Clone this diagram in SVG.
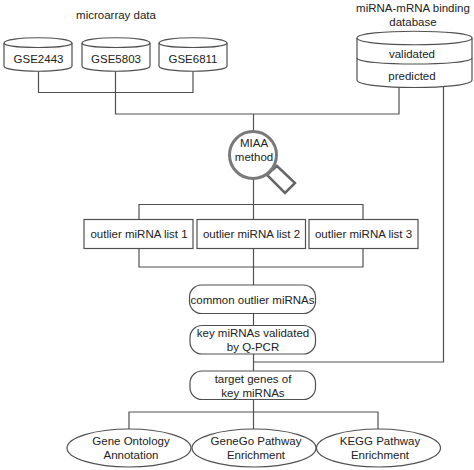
<svg xmlns="http://www.w3.org/2000/svg" width="474" height="470" viewBox="0 0 474 470">
<style>
.s{fill:#fff;stroke:#505050;stroke-width:1.2}
.c{fill:none;stroke:#505050;stroke-width:1.2}
text{font-family:"Liberation Sans",Arial,sans-serif;font-size:11.500px;fill:#222;text-anchor:middle}
</style>
<rect width="474" height="470" fill="#fff"/>
<g id="connectors" class="c">
<path d="M38.500 71V92.500H193V71"/>
<path d="M115.500 71V114H399V87"/>
<path d="M253.500 114V131"/>
<path d="M253.500 179V219"/>
<path d="M139 219V204.500H363V219"/>
<path d="M139 248V267H363V248"/>
<path d="M253.500 248V285"/>
<path d="M253.500 313V325"/>
<path d="M253.500 354V371"/>
<path d="M443.500 87V362H253.500"/>
<path d="M253.500 399V429"/>
<path d="M129 429V412H378V429"/>
</g>
<g id="title-microarray"><text x="116" y="18.500">microarray data</text></g>
<g id="title-database"><text x="413" y="11.500">miRNA-mRNA binding</text><text x="413" y="25.500">database</text></g>
<g id="gse2443"><path class="s" d="M4 43C4 36 72 36 72 43V66C72 73 4 73 4 66Z"/><path class="c" d="M4 43C4 49 72 49 72 43"/><text x="38.500" y="62.500">GSE2443</text></g>
<g id="gse5803"><path class="s" d="M82 43C82 36 150 36 150 43V66C150 73 82 73 82 66Z"/><path class="c" d="M82 43C82 49 150 49 150 43"/><text x="116" y="62.500">GSE5803</text></g>
<g id="gse6811"><path class="s" d="M159 43C159 36 227 36 227 43V66C227 73 159 73 159 66Z"/><path class="c" d="M159 43C159 49 227 49 227 43"/><text x="193" y="62.500">GSE6811</text></g>
<g id="database"><path class="s" d="M357 38C357 29 472 29 472 38V80C472 90 357 90 357 80Z"/><path class="c" d="M357 38C357 47 472 47 472 38"/><path class="c" d="M357 58C357 66 472 66 472 58"/><text x="412" y="58">validated</text><text x="412" y="80">predicted</text></g>
<g id="miaa-method">
<path d="M271 171L277 166L295 183L285 193L267 175Z" fill="#fff" stroke="#666" stroke-width="2.500"/>
<circle cx="253" cy="155" r="23.500" fill="#fff" stroke="#7a7a7a" stroke-width="3"/>
<text x="254" y="147">MIAA</text><text x="254" y="161">method</text></g>
<g id="list1"><rect class="s" x="84" y="219.500" width="109" height="29"/><text x="139" y="238">outlier miRNA list 1</text></g>
<g id="list2"><rect class="s" x="197" y="219.500" width="108.500" height="29"/><text x="251.500" y="238">outlier miRNA list 2</text></g>
<g id="list3"><rect class="s" x="309" y="219.500" width="109" height="29"/><text x="363.500" y="238">outlier miRNA list 3</text></g>
<g id="common"><rect class="s" x="189.500" y="285" width="126" height="28.500" rx="12"/><text x="252.500" y="303.500">common outlier miRNAs</text></g>
<g id="key"><rect class="s" x="190" y="325.500" width="125.500" height="28.500" rx="12"/><text x="253" y="337">key miRNAs validated</text><text x="253" y="351">by Q-PCR</text></g>
<g id="target"><rect class="s" x="190" y="371" width="125.500" height="28.500" rx="12"/><text x="253" y="383">target genes of</text><text x="253" y="396.500">key miRNAs</text></g>
<g id="go"><ellipse class="s" cx="129" cy="448" rx="62" ry="19"/><text x="131" y="445">Gene Ontology</text><text x="131" y="458.500">Annotation</text></g>
<g id="genego"><ellipse class="s" cx="254" cy="448" rx="62" ry="19"/><text x="256" y="445">GeneGo Pathway</text><text x="256" y="458.500">Enrichment</text></g>
<g id="kegg"><ellipse class="s" cx="378.500" cy="448" rx="62" ry="19"/><text x="380" y="445">KEGG Pathway</text><text x="380" y="458.500">Enrichment</text></g>
</svg>
